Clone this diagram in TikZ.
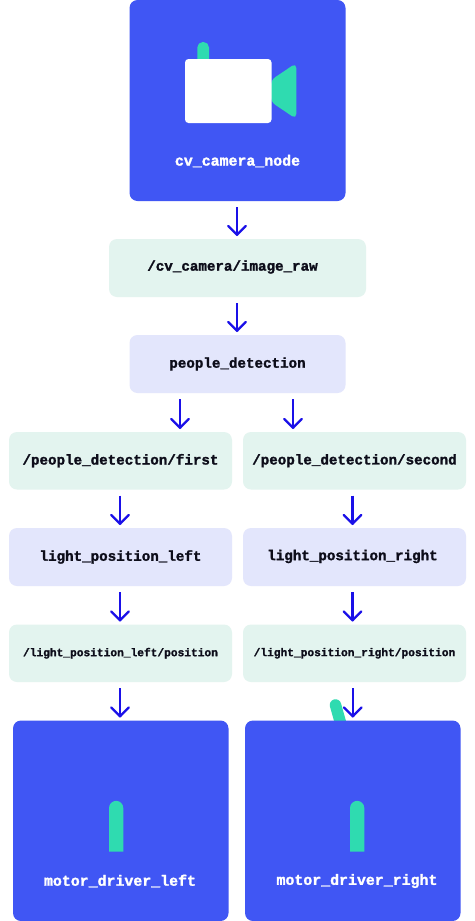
\documentclass[tikz,border=0pt]{standalone}
\usepackage{fontspec}
\setmainfont{Liberation Mono}[BoldFeatures={FakeBold=1.6}]
\usetikzlibrary{calc}
\definecolor{nodeblue}{HTML}{4056F4}
\definecolor{topicgreen}{HTML}{E3F4EF}
\definecolor{lav}{HTML}{E3E6FC}
\definecolor{mint}{HTML}{2FDBB0}
\definecolor{arrowblue}{HTML}{1A10E8}
\definecolor{ink}{HTML}{0D0D1A}
\tikzset{
  boxbase/.style={anchor=north west,rounded corners=8pt,inner sep=0pt,outer sep=0pt,align=center},
  bignode/.style={boxbase,fill=nodeblue},
  topic/.style={boxbase,fill=topicgreen,text=ink,font=\bfseries\fontsize{14.2pt}{16pt}\selectfont},
  topicsmall/.style={topic,font=\bfseries\fontsize{11.2pt}{13pt}\selectfont},
  proc/.style={boxbase,fill=lav,text=ink,font=\bfseries\fontsize{14.2pt}{16pt}\selectfont},
  biglabel/.style={inner sep=0pt,text=white,font=\bfseries\fontsize{14.9pt}{16pt}\selectfont},
  textlabel/.style={inner sep=0pt,text=ink,font=\bfseries\fontsize{14.2pt}{16pt}\selectfont},
  flow/.style={draw=arrowblue,line width=2.4pt,shorten <=6pt,shorten >=4.5pt},
  vhead/.style={draw=arrowblue,line width=2.4pt,line cap=round,line join=round},
  minty/.style={fill=mint,draw=none}
}
\newcommand{\flowarrow}[2]{%
  \draw[flow] (#1) -- (#2);
  \draw[vhead] ($(#2)+(-8.7pt,13pt)$) -- ($(#2)+(0pt,4.2pt)$) -- ($(#2)+(8.7pt,13pt)$);
}
\begin{document}
\begin{tikzpicture}[x=1pt,y=-1pt]
\useasboundingbox (0,0) rectangle (474,921);
\fill[white] (0,0) rectangle (474,921);
% antenna peeking above right motor box
\draw[mint,line width=11.5pt,line cap=round] (335.5,705) -- (342,728);
% boxes
\node[bignode,minimum width=216pt,minimum height=201pt] (cam) at (129.5,0) {};
\node[boxbase,fill=topicgreen,minimum width=257pt,minimum height=58pt] (raw) at (109,239) {};
\node[textlabel] (rawlabel) at (232.5,267) {/cv\_camera/image\_raw};
\node[proc,minimum width=216pt,minimum height=58pt] (pd) at (129.5,335) {people\_detection};
\node[topic,minimum width=223pt,minimum height=57.5pt] (first) at (9,432) {/people\_detection/first};
\node[topic,minimum width=223pt,minimum height=57.5pt] (second) at (243,432) {/people\_detection/second};
\node[proc,minimum width=223pt,minimum height=58pt] (lleft) at (9,528) {light\_position\_left};
\node[boxbase,fill=lav,minimum width=223pt,minimum height=58pt] (lright) at (243,528) {};
\node[textlabel] (lrightlabel) at (352.5,556.5) {light\_position\_right};
\node[topicsmall,minimum width=223pt,minimum height=57.5pt] (pleft) at (9,624.5) {/light\_position\_left/position};
\node[topicsmall,minimum width=223pt,minimum height=57.5pt] (pright) at (243,624.5) {/light\_position\_right/position};
\node[bignode,minimum width=215.5pt,minimum height=200.5pt] (mleft) at (13,720.5) {};
\node[bignode,minimum width=215.5pt,minimum height=200.5pt] (mright) at (245,720.5) {};
% labels in big boxes
\node[biglabel] (camlabel) at (237.5,161) {cv\_camera\_node};
\node[biglabel] (mleftlabel) at (120,881) {motor\_driver\_left};
\node[biglabel] (mrightlabel) at (357,881) {motor\_driver\_right};
% camera icon
\fill[mint,rounded corners=5.5pt] (197.3,42) rectangle (209,70);
\fill[mint,rounded corners=5pt] (271,80) -- (296.3,63) -- (296.3,119) -- (271,102) -- cycle;
\fill[white,rounded corners=3.5pt] (185,59) rectangle (271.5,123);
% motor shafts
\path[minty] (109,851.7) -- (109,808) arc[start angle=180,end angle=0,radius=7.15pt] -- (123.3,851.7) -- cycle;
\path[minty] (350,851.7) -- (350,808) arc[start angle=180,end angle=0,radius=7.15pt] -- (364.3,851.7) -- cycle;
% connectors
\flowarrow{$(cam.south)+(-0.5pt,0pt)$}{$(raw.north)+(-0.5pt,0pt)$}
\flowarrow{$(raw.south)+(-0.5pt,0pt)$}{$(pd.north)+(-0.5pt,0pt)$}
\flowarrow{$(pd.south)+(-57.5pt,0pt)$}{$(first.north)+(59.5pt,0pt)$}
\flowarrow{$(pd.south)+(55.5pt,0pt)$}{$(second.north)+(-61.5pt,0pt)$}
\flowarrow{$(first.south)+(-0.5pt,0pt)$}{$(lleft.north)+(-0.5pt,0pt)$}
\flowarrow{$(second.south)+(-2pt,0pt)$}{$(lright.north)+(-2pt,0pt)$}
\flowarrow{$(lleft.south)+(-0.5pt,0pt)$}{$(pleft.north)+(-0.5pt,0pt)$}
\flowarrow{$(lright.south)+(-2pt,0pt)$}{$(pright.north)+(-2pt,0pt)$}
\flowarrow{$(pleft.south)+(-0.5pt,0pt)$}{$(mleft.north)+(-0.75pt,0pt)$}
\flowarrow{$(pright.south)+(-1.75pt,0pt)$}{mright.north}
\end{tikzpicture}
\end{document}
